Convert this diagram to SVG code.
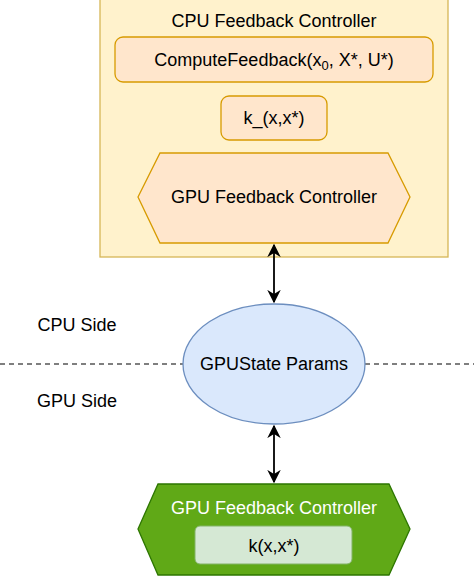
<svg xmlns="http://www.w3.org/2000/svg" width="474" height="579" viewBox="0 0 474 579">
<defs>
<style>
text{font-family:"Liberation Sans",Arial,sans-serif;font-size:18px;fill:#000;text-anchor:middle}
.peach{fill:#ffe6cc;stroke:#d79b00;stroke-width:1.3}
.conn{stroke:#000;stroke-width:1.8;fill:none}
</style>
<marker id="ah" viewBox="0 0 10 10" refX="9" refY="5" markerWidth="7.5" markerHeight="7.5" orient="auto-start-reverse">
<path d="M0,0 L10,5 L0,10 L3,5 Z" fill="#000"/>
</marker>
</defs>
<rect width="474" height="579" fill="#fff"/>
<g id="cpu-controller">
<rect x="100" y="-1" width="348" height="258" fill="#fff2cc" stroke="#d6b656" stroke-width="1.3"/>
<text x="274" y="27">CPU Feedback Controller</text>
</g>
<g id="compute-feedback">
<rect class="peach" x="115" y="37" width="318" height="45" rx="8"/>
<text x="274" y="66">ComputeFeedback(x<tspan font-size="13" dy="4">0</tspan><tspan dy="-4">, X*, U*)</tspan></text>
</g>
<g id="k-cpu">
<rect class="peach" x="221" y="96" width="106" height="44" rx="8"/>
<text x="274" y="124">k_(x,x*)</text>
</g>
<g id="gpu-controller-cpu">
<polygon class="peach" points="138,197 160,153 388,153 410,197 388,243 160,243"/>
<text x="274" y="203">GPU Feedback Controller</text>
</g>
<g id="labels">
<text x="77" y="331">CPU Side</text>
<text x="77" y="407">GPU Side</text>
</g>
<g id="connectors">
<line x1="0" y1="364" x2="183" y2="364" stroke="#000" stroke-width="1.2" stroke-dasharray="5,4"/>
<line x1="365" y1="364" x2="474" y2="364" stroke="#000" stroke-width="1.2" stroke-dasharray="5,4"/>
<line class="conn" x1="274" y1="245" x2="274" y2="302" marker-start="url(#ah)" marker-end="url(#ah)"/>
<line class="conn" x1="274" y1="426" x2="274" y2="482" marker-start="url(#ah)" marker-end="url(#ah)"/>
</g>
<g id="gpustate">
<ellipse cx="274" cy="364" rx="91" ry="60" fill="#dae8fc" stroke="#6c8ebf" stroke-width="1.3"/>
<text x="274" y="370">GPUState Params</text>
</g>
<g id="gpu-controller-gpu">
<polygon points="138,529 158,484 389,484 410,529 389,575 158,575" fill="#60a917" stroke="#2d7600" stroke-width="1.3"/>
<text x="274" y="514" style="fill:#fff">GPU Feedback Controller</text>
</g>
<g id="k-gpu">
<rect x="195" y="526" width="157" height="38" rx="5" fill="#d5e8d4" stroke="#82b366" stroke-width="1"/>
<text x="274" y="552">k(x,x*)</text>
</g>
</svg>
